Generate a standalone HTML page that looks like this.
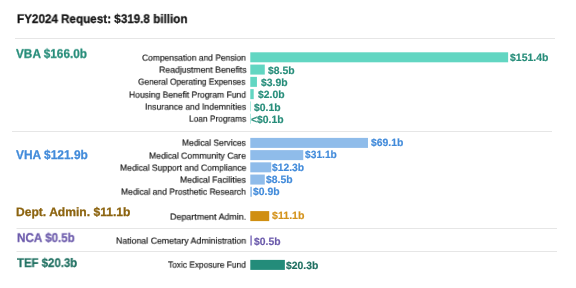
<!DOCTYPE html>
<html><head><meta charset="utf-8"><style>
html,body{margin:0;padding:0;background:#fff;width:576px;height:288px;overflow:hidden}
body{position:relative;font-family:"Liberation Sans",sans-serif}
.t{position:absolute;line-height:1;white-space:nowrap;transform-origin:0 0}
</style></head><body>
<svg width="576" height="288" viewBox="0 0 576 288" style="position:absolute;left:0;top:0"><rect x="250.30" y="52.30" width="257.83" height="10" fill="#62D6C2"/><rect x="250.30" y="64.58" width="14.48" height="10" fill="#62D6C2"/><rect x="250.30" y="76.86" width="6.64" height="10" fill="#62D6C2"/><rect x="250.30" y="89.14" width="3.41" height="10" fill="#62D6C2"/><rect x="250.30" y="101.42" width="0.50" height="10" fill="#62D6C2"/><rect x="250.30" y="113.70" width="0.50" height="10" fill="#62D6C2"/><rect x="250.30" y="137.90" width="117.68" height="10" fill="#8FBCEA"/><rect x="250.30" y="150.12" width="52.96" height="10" fill="#8FBCEA"/><rect x="250.30" y="162.34" width="20.95" height="10" fill="#8FBCEA"/><rect x="250.30" y="174.56" width="14.48" height="10" fill="#8FBCEA"/><rect x="250.30" y="186.78" width="1.60" height="10" fill="#8FBCEA"/><rect x="250.30" y="211.10" width="18.90" height="10" fill="#D08F12"/><rect x="250.30" y="235.50" width="1.60" height="10" fill="#8C7EC2"/><rect x="250.30" y="259.90" width="34.57" height="10" fill="#238C7A"/><rect x="15" y="38" width="540" height="1" fill="#E6E6E6"/><rect x="12" y="131" width="540" height="1" fill="#E6E6E6"/><rect x="16.5" y="228" width="540.5" height="1" fill="#E6E6E6"/><rect x="16.5" y="251" width="540.5" height="1" fill="#E6E6E6"/></svg>
<div class="t" style="left:16.60px;top:12.67px;font-size:11.8px;font-weight:700;color:#111111;transform:scale(0.9889,1.0500);will-change:transform;text-rendering:geometricPrecision;-webkit-text-stroke:0.25px #111111">FY2024 Request: $319.8 billion</div>
<div class="t" style="left:15.51px;top:47.62px;font-size:11.8px;font-weight:700;color:#278D7A;transform:scale(0.9995,1.0750);will-change:transform;text-rendering:geometricPrecision;-webkit-text-stroke:0.25px #278D7A">VBA $166.0b</div>
<div class="t" style="left:15.56px;top:148.85px;font-size:11.8px;font-weight:700;color:#428BDA;transform:scale(1.0109,1.0688);will-change:transform;text-rendering:geometricPrecision;-webkit-text-stroke:0.25px #428BDA">VHA $121.9b</div>
<div class="t" style="left:15.73px;top:206.76px;font-size:11.8px;font-weight:700;color:#8C6410;transform:scale(1.0250,1.0312);will-change:transform;text-rendering:geometricPrecision;-webkit-text-stroke:0.25px #8C6410">Dept. Admin. $11.1b</div>
<div class="t" style="left:16.56px;top:231.86px;font-size:11.8px;font-weight:700;color:#6B5AAB;transform:scale(0.9876,1.0625);will-change:transform;text-rendering:geometricPrecision;-webkit-text-stroke:0.25px #6B5AAB">NCA $0.5b</div>
<div class="t" style="left:16.62px;top:256.90px;font-size:11.8px;font-weight:700;color:#1E6F60;transform:scale(0.9673,1.0500);will-change:transform;text-rendering:geometricPrecision;-webkit-text-stroke:0.25px #1E6F60">TEF $20.3b</div>
<div class="t" style="left:141.74px;top:53.92px;font-size:9.3px;font-weight:400;color:#1A1A1A;transform:scale(0.9087,0.9501);will-change:transform;text-rendering:geometricPrecision;-webkit-text-stroke:0.2px #1A1A1A">Compensation and Pension</div>
<div class="t" style="left:509.62px;top:53.82px;font-size:10px;font-weight:700;color:#278D7A;transform:scale(1.0460,1.0470);will-change:transform;text-rendering:geometricPrecision;-webkit-text-stroke:0.15px #278D7A">$151.4b</div>
<div class="t" style="left:158.63px;top:65.51px;font-size:9.3px;font-weight:400;color:#1A1A1A;transform:scale(0.9358,0.9501);will-change:transform;text-rendering:geometricPrecision;-webkit-text-stroke:0.2px #1A1A1A">Readjustment Benefits</div>
<div class="t" style="left:267.73px;top:66.88px;font-size:10px;font-weight:700;color:#278D7A;transform:scale(1.0382,1.0470);will-change:transform;text-rendering:geometricPrecision;-webkit-text-stroke:0.15px #278D7A">$8.5b</div>
<div class="t" style="left:137.54px;top:77.54px;font-size:9.3px;font-weight:400;color:#1A1A1A;transform:scale(0.8957,0.9501);will-change:transform;text-rendering:geometricPrecision;-webkit-text-stroke:0.2px #1A1A1A">General Operating Expenses</div>
<div class="t" style="left:260.53px;top:78.94px;font-size:10px;font-weight:700;color:#278D7A;transform:scale(1.0387,1.0470);will-change:transform;text-rendering:geometricPrecision;-webkit-text-stroke:0.15px #278D7A">$3.9b</div>
<div class="t" style="left:128.53px;top:90.60px;font-size:9.3px;font-weight:400;color:#1A1A1A;transform:scale(0.9159,0.9501);will-change:transform;text-rendering:geometricPrecision;-webkit-text-stroke:0.2px #1A1A1A">Housing Benefit Program Fund</div>
<div class="t" style="left:257.73px;top:90.50px;font-size:10px;font-weight:700;color:#278D7A;transform:scale(1.0387,1.0470);will-change:transform;text-rendering:geometricPrecision;-webkit-text-stroke:0.15px #278D7A">$2.0b</div>
<div class="t" style="left:144.72px;top:102.69px;font-size:9.3px;font-weight:400;color:#1A1A1A;transform:scale(0.9271,0.9501);will-change:transform;text-rendering:geometricPrecision;-webkit-text-stroke:0.2px #1A1A1A">Insurance and Indemnities</div>
<div class="t" style="left:253.63px;top:103.56px;font-size:10px;font-weight:700;color:#278D7A;transform:scale(1.0387,1.0470);will-change:transform;text-rendering:geometricPrecision;-webkit-text-stroke:0.15px #278D7A">$0.1b</div>
<div class="t" style="left:188.65px;top:114.72px;font-size:9.3px;font-weight:400;color:#1A1A1A;transform:scale(0.8992,0.9501);will-change:transform;text-rendering:geometricPrecision;-webkit-text-stroke:0.2px #1A1A1A">Loan Programs</div>
<div class="t" style="left:250.62px;top:115.62px;font-size:10px;font-weight:700;color:#278D7A;transform:scale(1.0387,1.0470);will-change:transform;text-rendering:geometricPrecision;-webkit-text-stroke:0.15px #278D7A">&lt;$0.1b</div>
<div class="t" style="left:181.69px;top:138.62px;font-size:9.3px;font-weight:400;color:#1A1A1A;transform:scale(0.9085,0.9501);will-change:transform;text-rendering:geometricPrecision;-webkit-text-stroke:0.2px #1A1A1A">Medical Services</div>
<div class="t" style="left:370.58px;top:138.77px;font-size:10px;font-weight:700;color:#428BDA;transform:scale(1.0394,1.0470);will-change:transform;text-rendering:geometricPrecision;-webkit-text-stroke:0.15px #428BDA">$69.1b</div>
<div class="t" style="left:148.62px;top:151.59px;font-size:9.3px;font-weight:400;color:#1A1A1A;transform:scale(0.9285,0.9501);will-change:transform;text-rendering:geometricPrecision;-webkit-text-stroke:0.2px #1A1A1A">Medical Community Care</div>
<div class="t" style="left:304.54px;top:150.71px;font-size:10px;font-weight:700;color:#428BDA;transform:scale(1.0229,1.0470);will-change:transform;text-rendering:geometricPrecision;-webkit-text-stroke:0.15px #428BDA">$31.1b</div>
<div class="t" style="left:119.63px;top:163.50px;font-size:9.3px;font-weight:400;color:#1A1A1A;transform:scale(0.9225,0.9501);will-change:transform;text-rendering:geometricPrecision;-webkit-text-stroke:0.2px #1A1A1A">Medical Support and Compliance</div>
<div class="t" style="left:271.53px;top:163.65px;font-size:10px;font-weight:700;color:#428BDA;transform:scale(1.0312,1.0470);will-change:transform;text-rendering:geometricPrecision;-webkit-text-stroke:0.15px #428BDA">$12.3b</div>
<div class="t" style="left:179.62px;top:175.97px;font-size:9.3px;font-weight:400;color:#1A1A1A;transform:scale(0.9296,0.9501);will-change:transform;text-rendering:geometricPrecision;-webkit-text-stroke:0.2px #1A1A1A">Medical Facilities</div>
<div class="t" style="left:265.58px;top:175.59px;font-size:10px;font-weight:700;color:#428BDA;transform:scale(1.0387,1.0470);will-change:transform;text-rendering:geometricPrecision;-webkit-text-stroke:0.15px #428BDA">$8.5b</div>
<div class="t" style="left:120.64px;top:187.88px;font-size:9.3px;font-weight:400;color:#1A1A1A;transform:scale(0.9151,0.9501);will-change:transform;text-rendering:geometricPrecision;-webkit-text-stroke:0.2px #1A1A1A">Medical and Prosthetic Research</div>
<div class="t" style="left:252.53px;top:187.53px;font-size:10px;font-weight:700;color:#428BDA;transform:scale(1.0387,1.0470);will-change:transform;text-rendering:geometricPrecision;-webkit-text-stroke:0.15px #428BDA">$0.9b</div>
<div class="t" style="left:169.53px;top:212.60px;font-size:9.3px;font-weight:400;color:#1A1A1A;transform:scale(0.9574,0.9501);will-change:transform;text-rendering:geometricPrecision;-webkit-text-stroke:0.2px #1A1A1A">Department Admin.</div>
<div class="t" style="left:271.69px;top:211.56px;font-size:10px;font-weight:700;color:#D4931C;transform:scale(1.0621,1.0470);will-change:transform;text-rendering:geometricPrecision;-webkit-text-stroke:0.15px #D4931C">$11.1b</div>
<div class="t" style="left:115.57px;top:236.85px;font-size:9.3px;font-weight:400;color:#1A1A1A;transform:scale(0.9437,0.9501);will-change:transform;text-rendering:geometricPrecision;-webkit-text-stroke:0.2px #1A1A1A">National Cemetary Administration</div>
<div class="t" style="left:253.59px;top:237.74px;font-size:10px;font-weight:700;color:#6B5AAB;transform:scale(1.0341,1.0470);will-change:transform;text-rendering:geometricPrecision;-webkit-text-stroke:0.15px #6B5AAB">$0.5b</div>
<div class="t" style="left:167.70px;top:260.62px;font-size:9.3px;font-weight:400;color:#1A1A1A;transform:scale(0.8963,0.9501);will-change:transform;text-rendering:geometricPrecision;-webkit-text-stroke:0.2px #1A1A1A">Toxic Exposure Fund</div>
<div class="t" style="left:285.64px;top:261.57px;font-size:10px;font-weight:700;color:#1E6F60;transform:scale(1.0361,1.0470);will-change:transform;text-rendering:geometricPrecision;-webkit-text-stroke:0.15px #1E6F60">$20.3b</div>
</body></html>
